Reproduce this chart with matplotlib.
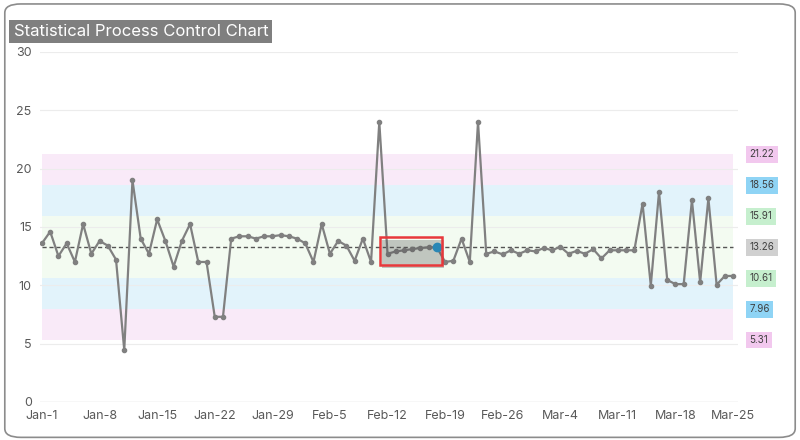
import matplotlib
matplotlib.use("Agg")
import matplotlib.pyplot as plt
from matplotlib.patches import FancyBboxPatch, Rectangle
import matplotlib.patheffects as pe
import numpy as np

values = [13.6,14.6,12.5,13.6,12.0,15.25,12.7,13.8,13.4,12.2,4.45,19.0,14.0,12.7,15.65,13.8,11.6,13.8,15.25,12.0,
          12.0,7.3,7.3,14.0,14.2,14.2,14.0,14.2,14.2,14.3,14.2,14.0,13.6,12.0,15.25,12.7,13.8,13.4,12.1,14.0,
          12.0,24.0,12.7,12.9,13.0,13.1,13.2,13.25,13.26,12.0,12.1,14.0,12.0,24.0,12.7,12.9,12.65,13.0,12.7,13.0,
          12.9,13.2,13.0,13.3,12.7,12.95,12.7,13.1,12.3,13.0,13.0,13.0,13.0,17.0,9.97,18.0,10.45,10.1,10.1,17.3,
          10.25,17.45,10.05,10.8,10.8]
tick_labels = ["Jan-1","Jan-8","Jan-15","Jan-22","Jan-29","Feb-5","Feb-12","Feb-19","Feb-26","Mar-4","Mar-11","Mar-18","Mar-25"]
mean = 13.26
limits = [5.31, 7.96, 10.61, 15.91, 18.56, 21.22]
highlight_start, highlight_end = 42, 48

x = np.arange(len(values))
fig = plt.figure(figsize=(8, 4.4), dpi=100)
plt.rcParams['font.family'] = ['Inter', 'DejaVu Sans']
ax = fig.add_axes([0.05, 0.0864, 0.8725, 0.7956])
ax.set_xlim(-0.24, 84.6)
ax.set_ylim(0, 30)

n = len(values) - 1
pink, blue, green = "#f9eaf8", "#e2f3fb", "#f3fbf1"
ax.fill_between([0, n], limits[4], limits[5], color=pink, lw=0, zorder=0)
ax.fill_between([0, n], limits[3], limits[4], color=blue, lw=0, zorder=0)
ax.fill_between([0, n], limits[2], limits[3], color=green, lw=0, zorder=0)
ax.fill_between([0, n], limits[1], limits[2], color=blue, lw=0, zorder=0)
ax.fill_between([0, n], limits[0], limits[1], color=pink, lw=0, zorder=0)

for yv in range(5, 31, 5):
    ax.axhline(yv, color="#ececec", lw=0.8, zorder=0.5)
ax.axhline(0, color="#d9d9d9", lw=1, zorder=0.5)
ax.plot([0, n], [mean, mean], ls="--", color="#555555", lw=1, dashes=(3, 2), zorder=2)
ax.plot(x, values, color="#808080", lw=1.6, marker="o", ms=3, zorder=3)
ax.plot(x[highlight_end], values[highlight_end], "o", color="#1ba1e2", ms=6, zorder=4)

# highlight rectangle
vals_h = values[highlight_start:highlight_end + 1]
rect = Rectangle((highlight_start - 0.9, min(vals_h) - 1.0), highlight_end - highlight_start + 1.5, 2.4,
                 fill=False, ec="#e8383b", lw=1.8, zorder=5,
                 path_effects=[pe.SimplePatchShadow(offset=(1.5, -1.5), alpha=0.3), pe.Normal()])
ax.add_patch(rect)

ax.set_xticks(x[::7])
ax.set_xticklabels(tick_labels, fontsize=9, color="#595959")
ax.set_yticks(range(0, 31, 5))
ax.tick_params(axis="y", labelsize=9, labelcolor="#595959", length=0, pad=6)
ax.tick_params(axis="x", length=0, pad=6)
for s in ax.spines.values():
    s.set_visible(False)

label_colors = ["#f2c8ee", "#8fd4f5", "#c6efce", "#d0d0d0", "#c6efce", "#8fd4f5", "#f2c8ee"]
all_vals = [limits[5], limits[4], limits[3], mean, limits[2], limits[1], limits[0]]
for v, c in zip(all_vals, label_colors):
    ax.text(86.0, v, f"{v:.2f}", fontsize=7, color="#404040", va="center", ha="left",
            bbox=dict(boxstyle="square,pad=0.35", fc=c, ec="none"), clip_on=False)

fig.text(0.017, 0.928, "Statistical Process Control Chart", fontsize=12, color="white", va="center",
         bbox=dict(boxstyle="square,pad=0.25", fc="#7f7f7f", ec="none"))

frame = FancyBboxPatch((0.006, 0.006), 0.988, 0.985, boxstyle="round,pad=0,rounding_size=0.02",
                       transform=fig.transFigure, fill=False, ec="#8c8c8c", lw=1.2)
fig.patches.append(frame)
fig.savefig("out.png", dpi=100)
